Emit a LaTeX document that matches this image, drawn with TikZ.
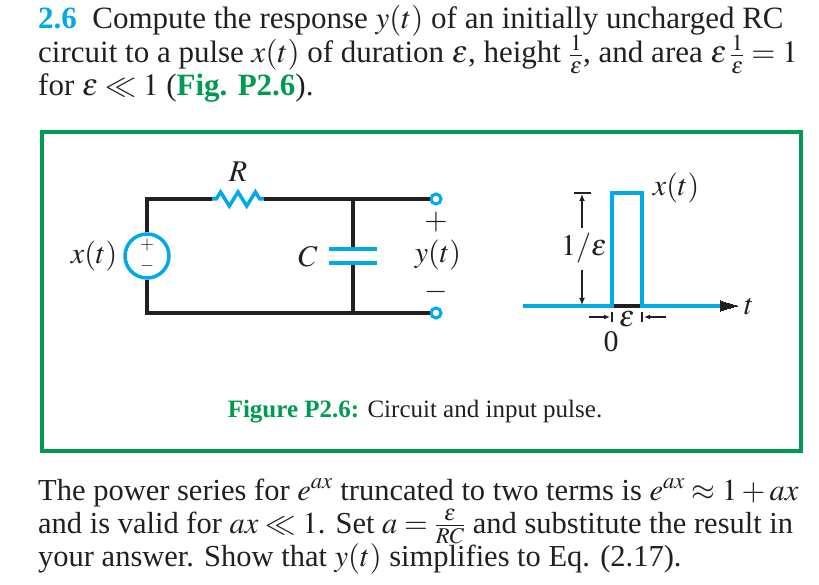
\documentclass[tikz,border=0pt]{standalone}
\usepackage{mathptmx}
\usepackage[no-math]{fontspec}
\setmainfont{Liberation Serif}
\usetikzlibrary{arrows.meta}
\definecolor{cblue}{RGB}{0,170,230}
\definecolor{cgreen}{RGB}{0,155,80}
\definecolor{ink}{RGB}{35,31,32}
\begin{document}
\begin{tikzpicture}[x=1pt,y=-1pt,
  wire/.style={ink,line width=3.5pt},
  bl/.style={cblue,line width=3.5pt},
  big/.style={inner sep=0,anchor=base west,font=\fontsize{31}{34}\selectfont,text=ink},
  lab/.style={inner sep=0,font=\fontsize{30}{32}\selectfont,text=ink},
  arr/.style={ink,line width=1.5pt,-{Latex[length=7pt,width=6pt]}}]
\useasboundingbox (0,0) rectangle (819,585);
% top text
\node[big] (l1) at (38,29) {\textcolor{cblue}{\textbf{2.6}}\hspace{0.5em}Compute the response $y(t)$ of an initially uncharged RC};
\node[big] (l2) at (38,63) {circuit to a pulse $x(t)$ of duration $\varepsilon$, height $\frac{1}{\varepsilon}$, and area $\varepsilon\,\frac{1}{\varepsilon}=1$};
\node[big] (l3) at (38,96) {for $\varepsilon\ll 1$ (\textcolor{cgreen}{\textbf{Fig. P2.6}}).};
% box
\draw[cgreen,line width=4pt] (42,132) rectangle (801,451);
% circuit
\coordinate (tl) at (147,199); \coordinate (bl) at (147,313);
\coordinate (r1) at (212,199); \coordinate (r2) at (264,199);
\coordinate (ct) at (353,199); \coordinate (cb) at (353,313);
\node[draw=cblue,line width=3.5pt,circle,minimum size=44pt,inner sep=0] (src) at (147,256) {};
\node[lab,font=\fontsize{18}{18}\selectfont] (sp) at (147,245) {$+$};
\node[lab,font=\fontsize{18}{18}\selectfont] (sm) at (147,266) {$-$};
\draw[wire] (src.north) -- (tl) -- (r1);
\draw[bl,line join=miter] (r1) -- ++(4.3,0) -- ++(4.3,-7) -- ++(8.7,14) -- ++(8.7,-14) -- ++(8.7,14) -- ++(8.7,-14) -- ++(4.3,7) -- (r2);
\node[draw=cblue,line width=3pt,circle,minimum size=10pt,inner sep=0] (tt) at (436,199) {};
\node[draw=cblue,line width=3pt,circle,minimum size=10pt,inner sep=0] (tb) at (436,313) {};
\draw[wire] (r2) -- (tt.west);
\draw[wire] (src.south) -- (bl) -- (tb.west);
\draw[wire] (ct) -- (353,249); \draw[wire] (353,263) -- (cb);
\draw[bl] (329,249) -- (377,249); \draw[bl] (329,263) -- (377,263);
\node[lab] (rl) at (238,172) {$R$};
\node[lab] (cl) at (308,257) {$C$};
\node[lab] (xl) at (94,256) {$x(t)$};
\node[lab] (yp) at (436,222) {$+$};
\node[lab] (yl) at (438,255) {$y(t)$};
\node[lab] (ym) at (436,292) {$-$};
% pulse
\coordinate (a0) at (523,306); \coordinate (p1) at (612,306); \coordinate (p2) at (642,306); \coordinate (ae) at (737,306);
\draw[bl,line join=miter] (a0) -- (p1) -- (612,193) -- (642,193) -- (p2) -- (722,306);
\draw[ink,line width=0pt,fill=ink] (ae) -- (720,301) -- (720,311) -- cycle;
\draw[ink,line width=4pt] (614,306) -- (640,306);
\node[lab] (tl2) at (749,307) {$t$};
\node[lab] (xt) at (676,188) {$x(t)$};
\draw[ink,line width=2pt] (574,193) -- (591,193);
\draw[arr] (582,228) -- (582,194);
\draw[arr] (582,270) -- (582,305);
\node[lab] (hl) at (584,248) {$1/\varepsilon$};
\draw[ink,line width=2pt] (612,312) -- (612,322); \draw[ink,line width=2pt] (642,312) -- (642,322);
\draw[arr,-{Latex[length=6pt,width=5pt]}] (589,317) -- (610,317);
\draw[arr,-{Latex[length=6pt,width=5pt]}] (666,317) -- (644,317);
\node[lab] (el) at (627,319) {$\varepsilon$};
\node[lab] (zl) at (611,342) {0};
% caption
\node[inner sep=0,font=\fontsize{25}{28}\selectfont,text=ink] (cap) at (415,412) {\textcolor{cgreen}{\textbf{Figure P2.6:}} Circuit and input pulse.};
% bottom text
\node[big,font=\fontsize{30.5}{34}\selectfont] (b1) at (38,500) {The power series for $e^{ax}$ truncated to two terms is $e^{ax}\approx 1+ax$};
\node[big,font=\fontsize{30.5}{34}\selectfont] (b2) at (38,533) {and is valid for $ax\ll 1$. Set $a=\frac{\varepsilon}{RC}$ and substitute the result in};
\node[big,font=\fontsize{30.5}{34}\selectfont] (b3) at (38,566) {your answer. Show that $y(t)$ simplifies to Eq. (2.17).};
\end{tikzpicture}
\end{document}
